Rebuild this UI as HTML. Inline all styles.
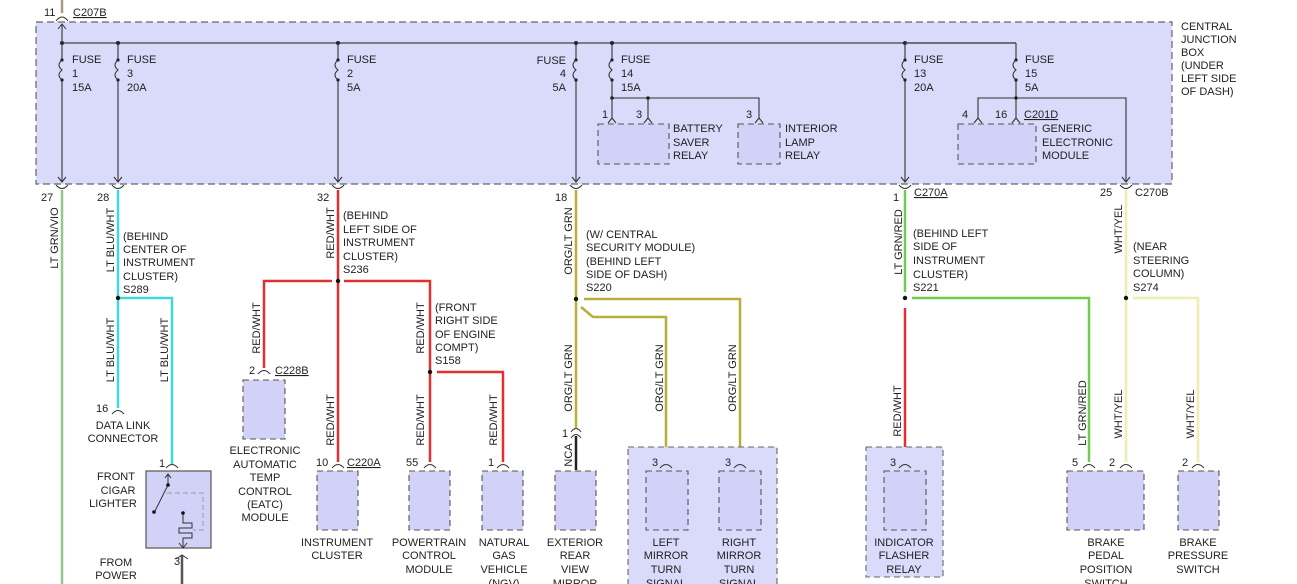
<!DOCTYPE html>
<html><head><meta charset="utf-8"><style>
html,body{margin:0;padding:0;background:#fff;}
svg{display:block;font-family:"Liberation Sans",sans-serif;font-size:11px;fill:#222;}
</style></head><body>
<svg width="1297" height="584" viewBox="0 0 1297 584" xmlns="http://www.w3.org/2000/svg">
<defs>
<marker id="ar" viewBox="0 0 10 10" refX="5" refY="9" markerWidth="10" markerHeight="10" orient="auto" markerUnits="userSpaceOnUse"><path d="M1,3 L5,9 L9,3" fill="none" stroke="#333" stroke-width="1"/></marker>
</defs>
<!-- Central junction box -->
<rect x="36" y="22" width="1136" height="162" fill="#dadafb" stroke="#666" stroke-width="1.2" stroke-dasharray="7,4"/>
<text x="1181" y="30">CENTRAL</text><text x="1181" y="43">JUNCTION</text><text x="1181" y="56">BOX</text><text x="1181" y="69">(UNDER</text><text x="1181" y="82">LEFT SIDE</text><text x="1181" y="95">OF DASH)</text>
<!-- top feed -->
<line x1="62" y1="0" x2="62" y2="13" stroke="#a89a7c" stroke-width="2.5"/>
<path d="M56,21 q6,-8 12,0" fill="none" stroke="#333"/>
<text x="44" y="16">11</text><text x="73" y="16" text-decoration="underline">C207B</text>
<path d="M58,29 L62,24 L66,29" fill="none" stroke="#333"/>
<!-- bus -->
<line x1="62" y1="43" x2="1016" y2="43" stroke="#444" stroke-width="1.2"/>
<g fill="#222">
<circle cx="62" cy="43" r="2"/><circle cx="118" cy="43" r="2"/><circle cx="338" cy="43" r="2"/><circle cx="576" cy="43" r="2"/><circle cx="612" cy="43" r="2"/><circle cx="905" cy="43" r="2"/>
</g>
<line x1="905" y1="43" x2="1016" y2="43" stroke="#444" stroke-width="1.2"/>
<!-- fuse verticals -->
<g stroke="#333" stroke-width="1.1" fill="none">
<path d="M62,24 V60 q-6,5 0,10 q-6,5 0,10 V182" />
<path d="M118,43 V60 q-6,5 0,10 q-6,5 0,10 V182"/>
<path d="M338,43 V60 q-6,5 0,10 q-6,5 0,10 V182"/>
<path d="M576,43 V60 q-6,5 0,10 q-6,5 0,10 V182"/>
<path d="M612,43 V60 q-6,5 0,10 q-6,5 0,10 V119"/>
<path d="M905,43 V60 q-6,5 0,10 q-6,5 0,10 V182"/>
<path d="M1016,43 V60 q-6,5 0,10 q-6,5 0,10 V119"/>
<path d="M612,98 H759 V119"/><path d="M648,98 V119"/>
<path d="M978,119 V98 H1126 V182"/>
<path d="M58,177 L62,182 L66,177"/><path d="M114,177 L118,182 L122,177"/><path d="M334,177 L338,182 L342,177"/><path d="M572,177 L576,182 L580,177"/><path d="M901,177 L905,182 L909,177"/><path d="M1122,177 L1126,182 L1130,177"/>
<path d="M608,123 L612,118 L616,123"/><path d="M644,123 L648,118 L652,123"/><path d="M755,123 L759,118 L763,123"/>
<path d="M974,123 L978,118 L982,123"/><path d="M1012,123 L1016,118 L1020,123"/>
</g>
<g fill="#222"><circle cx="62" cy="60" r="1.6"/><circle cx="62" cy="80" r="1.6"/><circle cx="118" cy="60" r="1.6"/><circle cx="118" cy="80" r="1.6"/><circle cx="338" cy="60" r="1.6"/><circle cx="338" cy="80" r="1.6"/><circle cx="576" cy="60" r="1.6"/><circle cx="576" cy="80" r="1.6"/><circle cx="612" cy="60" r="1.6"/><circle cx="612" cy="80" r="1.6"/><circle cx="905" cy="60" r="1.6"/><circle cx="905" cy="80" r="1.6"/><circle cx="1016" cy="60" r="1.6"/><circle cx="1016" cy="80" r="1.6"/><circle cx="612" cy="98" r="1.8"/><circle cx="648" cy="98" r="1.8"/><circle cx="1016" cy="98" r="1.8"/></g>
<text x="72" y="63">FUSE</text><text x="72" y="77">1</text><text x="72" y="91">15A</text>
<text x="127" y="63">FUSE</text><text x="127" y="77">3</text><text x="127" y="91">20A</text>
<text x="347" y="63">FUSE</text><text x="347" y="77">2</text><text x="347" y="91">5A</text>
<text x="566" y="64" text-anchor="end">FUSE</text><text x="566" y="77" text-anchor="end">4</text><text x="566" y="91" text-anchor="end">5A</text>
<text x="621" y="63">FUSE</text><text x="621" y="77">14</text><text x="621" y="91">15A</text>
<text x="914" y="63">FUSE</text><text x="914" y="77">13</text><text x="914" y="91">20A</text>
<text x="1025" y="63">FUSE</text><text x="1025" y="77">15</text><text x="1025" y="91">5A</text>
<!-- relays in box -->
<g fill="#d2d2f8" stroke="#555" stroke-width="1.1" stroke-dasharray="6,4">
<rect x="598" y="124" width="71" height="40"/><rect x="738" y="124" width="42" height="40"/><rect x="958" y="124" width="78" height="40"/>
</g>
<text x="602" y="118">1</text><text x="636" y="118">3</text><text x="746" y="118">3</text>
<text x="673" y="132">BATTERY</text><text x="673" y="146">SAVER</text><text x="673" y="159">RELAY</text>
<text x="785" y="132">INTERIOR</text><text x="785" y="146">LAMP</text><text x="785" y="159">RELAY</text>
<text x="962" y="118">4</text><text x="995" y="118">16</text><text x="1024" y="118" text-decoration="underline">C201D</text>
<text x="1042" y="132">GENERIC</text><text x="1042" y="146">ELECTRONIC</text><text x="1042" y="159">MODULE</text>
<!-- bottom connector arcs -->
<g fill="none" stroke="#333" stroke-width="1">
<path d="M56,185 q6,7 12,0"/><path d="M112,185 q6,7 12,0"/><path d="M332,185 q6,7 12,0"/><path d="M570,185 q6,7 12,0"/><path d="M899,185 q6,7 12,0"/><path d="M1120,185 q6,7 12,0"/>
</g>
<text x="41" y="201">27</text><text x="97" y="201">28</text><text x="317" y="201">32</text><text x="555" y="201">18</text><text x="893" y="201">1</text><text x="1100" y="196">25</text>
<text x="914" y="196" text-decoration="underline">C270A</text><text x="1135" y="196">C270B</text>
<!-- wires -->
<g fill="none" stroke-width="2.5">
<line x1="62" y1="190" x2="62" y2="584" stroke="#90c890"/>
<path d="M118,190 V408 M118,298 H172 V465" stroke="#40d8e0"/>
<path d="M338,190 V462 M264,368 V281 H332 M344,281 H430 V462 M437,372 H503 V462" stroke="#e03030"/>
<path d="M576,190 V428 M584,299 H740 V462 M581,307 L593,317 H666 V462" stroke="#b8ae3c"/>
<line x1="576" y1="436" x2="576" y2="470" stroke="#222"/>
<path d="M905,190 V292 M912,298 H1089 V462" stroke="#70cc50"/>
<line x1="905" y1="308" x2="905" y2="462" stroke="#e03030"/>
<path d="M1126,190 V462 M1133,298 H1198 V462" stroke="#eeeeb0"/>
<line x1="182" y1="555" x2="182" y2="584" stroke="#555"/>
</g>
<g fill="#111"><circle cx="118" cy="298" r="2.2"/><circle cx="338" cy="281" r="2.2"/><circle cx="430" cy="372" r="2.2"/><circle cx="576" cy="299" r="2.2"/><circle cx="905" cy="298" r="2.2"/><circle cx="1126" cy="298" r="2.2"/></g>
<!-- splice labels -->
<text x="123" y="240">(BEHIND</text><text x="123" y="253">CENTER OF</text><text x="123" y="266">INSTRUMENT</text><text x="123" y="280">CLUSTER)</text><text x="123" y="293">S289</text>
<text x="343" y="219">(BEHIND</text><text x="343" y="233">LEFT SIDE OF</text><text x="343" y="246">INSTRUMENT</text><text x="343" y="260">CLUSTER)</text><text x="343" y="273">S236</text>
<text x="435" y="311">(FRONT</text><text x="435" y="324">RIGHT SIDE</text><text x="435" y="338">OF ENGINE</text><text x="435" y="351">COMPT)</text><text x="435" y="364">S158</text>
<text x="586" y="238">(W/ CENTRAL</text><text x="586" y="251">SECURITY MODULE)</text><text x="586" y="265">(BEHIND LEFT</text><text x="586" y="278">SIDE OF DASH)</text><text x="586" y="291">S220</text>
<text x="913" y="237">(BEHIND LEFT</text><text x="913" y="250">SIDE OF</text><text x="913" y="264">INSTRUMENT</text><text x="913" y="278">CLUSTER)</text><text x="913" y="291">S221</text>
<text x="1133" y="250">(NEAR</text><text x="1133" y="264">STEERING</text><text x="1133" y="277">COLUMN)</text><text x="1133" y="291">S274</text>
<!-- rotated wire labels -->
<g text-anchor="middle">
<text transform="translate(58,238) rotate(-90)">LT GRN/VIO</text>
<text transform="translate(114,240) rotate(-90)">LT BLU/WHT</text>
<text transform="translate(334,233) rotate(-90)">RED/WHT</text>
<text transform="translate(572,241) rotate(-90)">ORG/LT GRN</text>
<text transform="translate(902,242) rotate(-90)">LT GRN/RED</text>
<text transform="translate(1122,229) rotate(-90)">WHT/YEL</text>
<text transform="translate(114,350) rotate(-90)">LT BLU/WHT</text>
<text transform="translate(168,350) rotate(-90)">LT BLU/WHT</text>
<text transform="translate(260,328) rotate(-90)">RED/WHT</text>
<text transform="translate(424,328) rotate(-90)">RED/WHT</text>
<text transform="translate(334,420) rotate(-90)">RED/WHT</text>
<text transform="translate(424,420) rotate(-90)">RED/WHT</text>
<text transform="translate(497,420) rotate(-90)">RED/WHT</text>
<text transform="translate(572,378) rotate(-90)">ORG/LT GRN</text>
<text transform="translate(572,455) rotate(-90)">NCA</text>
<text transform="translate(663,378) rotate(-90)">ORG/LT GRN</text>
<text transform="translate(736,378) rotate(-90)">ORG/LT GRN</text>
<text transform="translate(901,411) rotate(-90)">RED/WHT</text>
<text transform="translate(1086,413) rotate(-90)">LT GRN/RED</text>
<text transform="translate(1122,414) rotate(-90)">WHT/YEL</text>
<text transform="translate(1194,414) rotate(-90)">WHT/YEL</text>
</g>
<!-- group boxes -->
<g fill="#dadafb" stroke="#666" stroke-width="1.1" stroke-dasharray="6,4">
<rect x="628" y="447" width="149" height="140"/><rect x="866" y="447" width="77" height="130"/>
</g>
<!-- module boxes -->
<g fill="#d2d2f8" stroke="#555" stroke-width="1.1" stroke-dasharray="6,4">
<rect x="243" y="380" width="42" height="59"/>
<rect x="317" y="471" width="41" height="59"/><rect x="409" y="471" width="41" height="59"/><rect x="482" y="471" width="41" height="59"/><rect x="555" y="471" width="41" height="59"/>
<rect x="646" y="471" width="42" height="59"/><rect x="719" y="471" width="42" height="59"/><rect x="884" y="471" width="42" height="59"/>
<rect x="1067" y="471" width="77" height="59"/><rect x="1178" y="471" width="41" height="59"/>
</g>
<!-- cigar lighter -->
<rect x="146" y="471" width="65" height="77" fill="#d2d2f8" stroke="#555" stroke-width="1.2"/>
<g fill="none" stroke="#333" stroke-width="1">
<path d="M168,474 V485 L155,511"/><path d="M165,478 L168,474 L171,478"/>
<path d="M167,493 H203 V530 H193" stroke="#999" stroke-dasharray="5,3"/>
<path d="M183,513 V523 H192 V528 H179 V533 H192 V538 H183 V548"/><path d="M179,543 L183,548 L187,543"/>
<path d="M176,559 L182,555 L188,559"/>
<path d="M166,468 q6,-7 12,0"/>
</g>
<g fill="#111"><circle cx="168" cy="485" r="1.8"/><circle cx="154" cy="512" r="1.8"/><circle cx="183" cy="513" r="1.8"/></g>
<!-- pin arcs -->
<g fill="none" stroke="#333" stroke-width="1">
<path d="M112,414 q6,-7 12,0"/><path d="M258,374 q6,-7 12,0"/><path d="M332,468 q6,-7 12,0"/><path d="M424,468 q6,-7 12,0"/><path d="M497,468 q6,-7 12,0"/>
<path d="M660,468 q6,-7 12,0"/><path d="M734,468 q6,-7 12,0"/><path d="M899,468 q6,-7 12,0"/><path d="M1083,468 q6,-7 12,0"/><path d="M1120,468 q6,-7 12,0"/><path d="M1192,468 q6,-7 12,0"/>
<path d="M571,432 q5,-7 10,0 M571,438 q5,-7 10,0"/>
</g>
<!-- pin numbers -->
<text x="96" y="412">16</text><text x="159" y="467">1</text><text x="174" y="565">3</text>
<text x="249" y="374">2</text><text x="275" y="374" text-decoration="underline">C228B</text>
<text x="316" y="466">10</text><text x="347" y="466" text-decoration="underline">C220A</text>
<text x="406" y="466">55</text><text x="488" y="466">1</text><text x="562" y="437">1</text>
<text x="652" y="466">3</text><text x="725" y="466">3</text><text x="890" y="466">3</text>
<text x="1072" y="466">5</text><text x="1109" y="466">2</text><text x="1182" y="466">2</text>
<!-- module labels -->
<g text-anchor="middle">
<text x="123" y="429">DATA LINK</text><text x="123" y="442">CONNECTOR</text>
<text x="116" y="480">FRONT</text><text x="118" y="494">CIGAR</text><text x="113" y="507">LIGHTER</text>
<text x="116" y="566">FROM</text><text x="116" y="579">POWER</text>
<text x="265" y="454">ELECTRONIC</text><text x="265" y="468">AUTOMATIC</text><text x="265" y="481">TEMP</text><text x="265" y="495">CONTROL</text><text x="265" y="508">(EATC)</text><text x="265" y="521">MODULE</text>
<text x="337" y="546">INSTRUMENT</text><text x="337" y="559">CLUSTER</text>
<text x="429" y="546">POWERTRAIN</text><text x="429" y="559">CONTROL</text><text x="429" y="573">MODULE</text>
<text x="504" y="546">NATURAL</text><text x="504" y="559">GAS</text><text x="504" y="573">VEHICLE</text><text x="504" y="587">(NGV)</text>
<text x="575" y="546">EXTERIOR</text><text x="575" y="559">REAR</text><text x="575" y="573">VIEW</text><text x="575" y="587">MIRROR</text>
<text x="666" y="546">LEFT</text><text x="666" y="559">MIRROR</text><text x="666" y="573">TURN</text><text x="666" y="587">SIGNAL</text>
<text x="739" y="546">RIGHT</text><text x="739" y="559">MIRROR</text><text x="739" y="573">TURN</text><text x="739" y="587">SIGNAL</text>
<text x="904" y="546">INDICATOR</text><text x="904" y="559">FLASHER</text><text x="904" y="573">RELAY</text>
<text x="1106" y="546">BRAKE</text><text x="1106" y="559">PEDAL</text><text x="1106" y="573">POSITION</text><text x="1106" y="587">SWITCH</text>
<text x="1198" y="546">BRAKE</text><text x="1198" y="559">PRESSURE</text><text x="1198" y="573">SWITCH</text>
</g>
</svg>
</body></html>
